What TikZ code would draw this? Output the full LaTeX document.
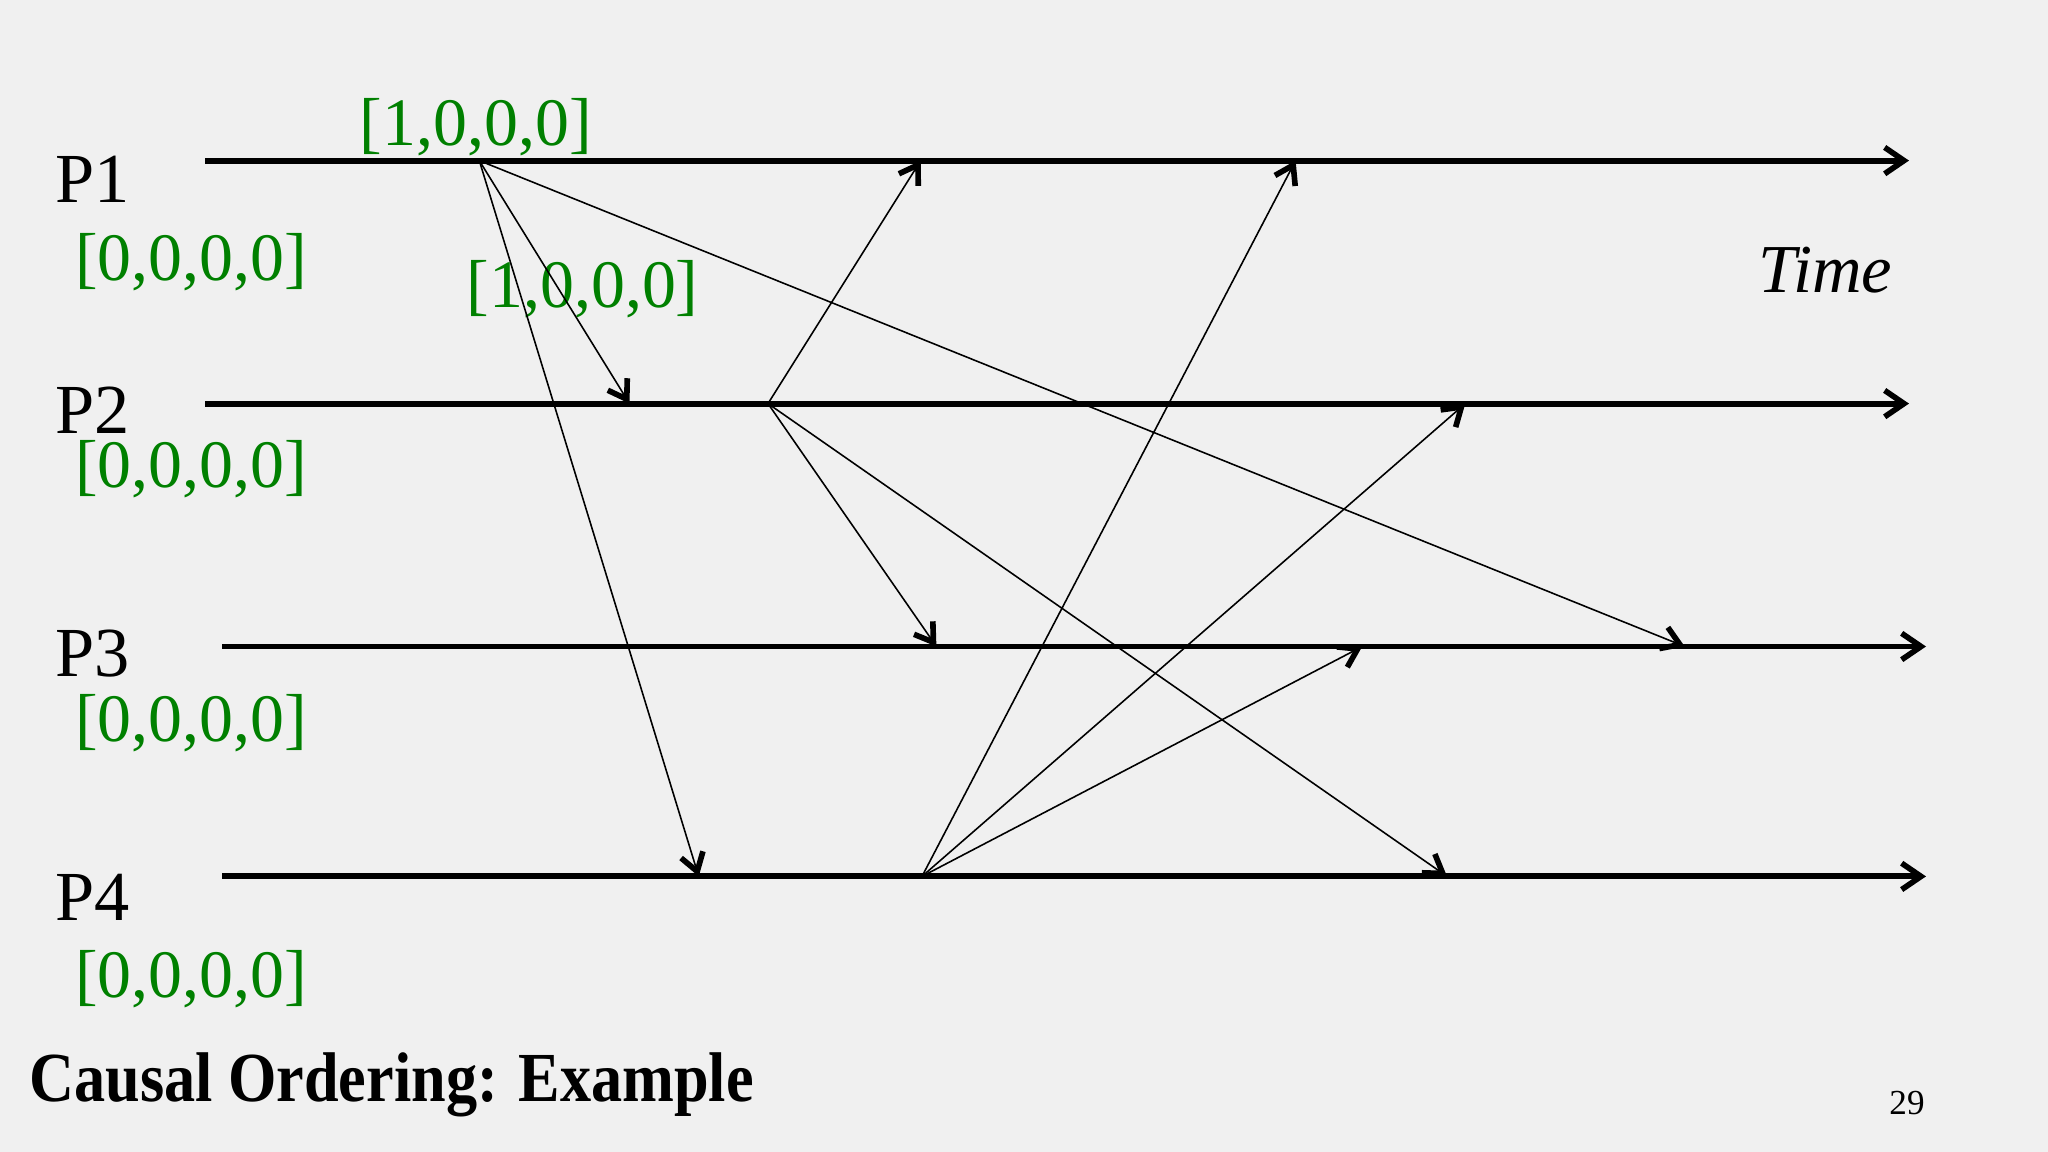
\documentclass[tikz,border=0pt]{standalone}
\usepackage{fontspec}
\setmainfont{Liberation Serif}
\usepackage{graphicx}
\usetikzlibrary{arrows.meta}
\definecolor{bg}{RGB}{240,240,240}
\definecolor{vgreen}{RGB}{0,128,0}
\tikzset{
  timeline/.style={line width=1.7pt, -{Straight Barb[length=5.5pt,width=7.5pt,line width=1.6pt]}},
  msg/.style={line width=0.45pt, -{Straight Barb[length=5pt,width=6.5pt,line width=1.6pt]}},
  plabel/.style={anchor=base west, inner sep=0pt, font=\fontsize{20}{22}\selectfont},
  vclock/.style={anchor=base west, inner sep=0pt, text=vgreen, font=\fontsize{19.3}{22}\selectfont},
}
\begin{document}
\begin{tikzpicture}[x=0.01cm, y=-0.01cm]
\useasboundingbox (0,0) rectangle (2048,1152);
\fill[bg] (0,0) rectangle (2048,1152);

% timelines
\coordinate (l1s) at (205,160.6);  \coordinate (l1e) at (1909,160.6);
\coordinate (l2s) at (205,403.6);  \coordinate (l2e) at (1909,403.6);
\coordinate (l3s) at (222,646.5);  \coordinate (l3e) at (1926,646.5);
\coordinate (l4s) at (222,876.4);  \coordinate (l4e) at (1926,876.4);
\draw[timeline] (l1s) -- (l1e);
\draw[timeline] (l2s) -- (l2e);
\draw[timeline] (l3s) -- (l3e);
\draw[timeline] (l4s) -- (l4e);

% process labels
\node[plabel] (p1) at (55,202.4) {P1};
\node[plabel] (p2) at (55,433.6) {P2};
\node[plabel] (p3) at (55,676.5) {P3};
\node[plabel] (p4) at (55,920.7) {P4};

% vector clocks
\node[vclock] (v1) at (74.4,280.8) {[0,0,0,0]};
\node[vclock] (v2) at (74.4,487.1) {[0,0,0,0]};
\node[vclock] (v3) at (74.4,741.8) {[0,0,0,0]};
\node[vclock] (v4) at (74.4,997.8) {[0,0,0,0]};
\node[vclock] (t1) at (359.2,146) {[1,0,0,0]};
\node[vclock] (t2) at (466,308) {[1,0,0,0]};

% events
\coordinate (s1) at (479.3,160.6);
\coordinate (s2) at (768,403.6);
\coordinate (s4) at (922,876.4);
\coordinate (r12) at (629.5,403.6);
\coordinate (r14) at (698.7,876.4);
\coordinate (r13) at (1684.7,646.5);
\coordinate (r21) at (920.7,160.6);
\coordinate (r23) at (936.4,646.5);
\coordinate (r24) at (1447,876.4);
\coordinate (r41) at (1295.6,160.6);
\coordinate (r42) at (1465.3,403.6);
\coordinate (r43) at (1362.2,646.5);

% messages
\draw[msg] (s1) -- (r12);
\draw[msg] (s1) -- (r14);
\draw[msg] (s1) -- (r13);
\draw[msg] (s2) -- (r21);
\draw[msg] (s2) -- (r23);
\draw[msg] (s2) -- (r24);
\draw[msg] (s4) -- (r41);
\draw[msg] (s4) -- (r42);
\draw[msg] (s4) -- (r43);

% texts
\node[anchor=base west, inner sep=0pt, font=\fontsize{19.5}{22}\selectfont\itshape] (time) at (1758,292.5) {Time};
\node[anchor=base west, inner sep=0pt, font=\fontsize{20}{22}\selectfont\bfseries] (title) at (28.7,1101) {\scalebox{0.885}[1]{Causal Ordering: Example}};
\node[anchor=base, inner sep=0pt, font=\fontsize{10}{12}\selectfont] (page) at (1907,1114) {29};
\end{tikzpicture}
\end{document}
